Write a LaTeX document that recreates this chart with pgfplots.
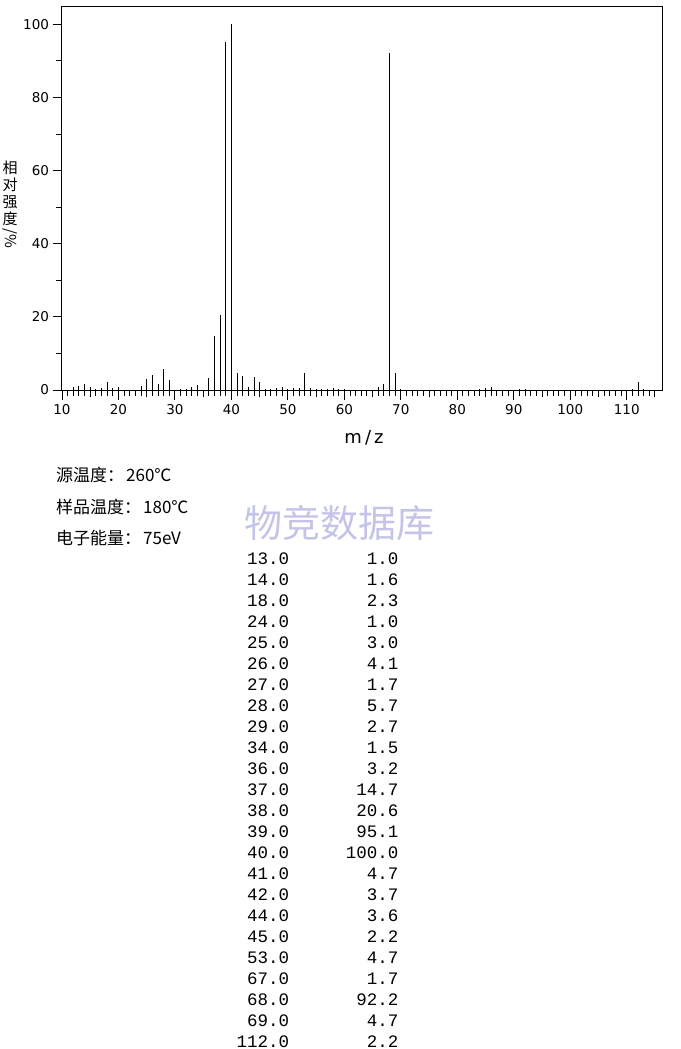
\documentclass[border=0pt]{standalone}
\usepackage{fontspec}
\usepackage{pgfplots}
\pgfplotsset{compat=1.18}
\setmainfont{DejaVu Sans}
\newfontfamily\cjk{Noto Sans CJK SC}
\newfontfamily\mono{Liberation Mono}
\definecolor{wm}{RGB}{196,196,232}
\begin{document}
\begin{tikzpicture}
\path[use as bounding box] (0,0) rectangle (680pt,-1049pt);
% watermark sits behind everything
\node[font=\cjk\fontsize{38}{38}\selectfont, text=wm, inner sep=0] at (339.5pt,-523pt) {物竞数据库};
\begin{axis}[
  at={(62pt,-390pt)}, anchor=south west,
  scale only axis, width=600pt, height=384pt,
  xmin=10, xmax=116.25, ymin=0, ymax=105,
  axis line style={line width=1pt},
  tick pos=left, tick align=outside,
  every tick/.style={black, line width=0.9pt},
  major tick length=9.5pt, minor tick length=5.7pt,
  xtick={10,20,...,110}, minor xtick={11,...,115},
  extra x ticks={15,25,...,115}, extra x tick labels={},
  extra x tick style={major tick length=7.3pt},
  ytick={0,20,...,100}, minor ytick={10,30,...,90},
  ticklabel style={font=\fontsize{13.5}{13.5}\selectfont},
  xticklabel style={yshift=-1.5pt},
  /pgf/number format/assume math mode=true,
]
\addplot[ycomb, black, line width=0.9pt, mark=none] coordinates {
(12,0.9) (13,1.0) (14,1.6) (15,0.8) (16,0.4) (17,0.5) (18,2.3) (19,0.5) (20,0.8)
(24,1.0) (25,3.0) (26,4.1) (27,1.7) (28,5.7) (29,2.7) (31,0.2) (32,0.3) (33,0.7)
(34,1.5) (36,3.2) (37,14.7) (38,20.6) (39,95.1) (40,100.0) (41,4.7) (42,3.7)
(43,0.8) (44,3.6) (45,2.2) (46,0.2) (47,0.3) (48,0.6) (49,0.8) (50,0.3) (51,0.5)
(52,0.5) (53,4.7) (54,0.5) (55,0.4) (56,0.3) (57,0.4) (58,0.5) (59,0.3) (60,0.2)
(66,0.7) (67,1.7) (68,92.2) (69,4.7) (70,0.2) (84,0.4) (85,0.5) (86,0.8)
(91,0.2) (92,0.3) (111,0.3) (112,2.2) (113,0.3)
};
\end{axis}
% axis titles
\node[font=\fontsize{18}{18}\selectfont, inner sep=0] at (364pt,-438pt) {m\hspace{3pt}/\hspace{3pt}z};
\begin{scope}[every node/.style={font=\cjk\fontsize{15}{15}\selectfont, inner sep=0}]
\node at (10pt,-168pt) {相};
\node at (10pt,-185pt) {对};
\node at (10pt,-202pt) {强};
\node at (10pt,-219pt) {度};
\node[rotate=-90, anchor=west] at (10pt,-228pt) {/\%};
\end{scope}
% conditions
\begin{scope}[every node/.style={font=\cjk\fontsize{17}{17}\selectfont, anchor=base west, inner sep=0}]
\node at (56pt,-481.5pt) {源温度：\hspace{2pt}260℃};
\node at (56pt,-513pt) {样品温度：\hspace{2pt}180℃};
\node at (56pt,-544.5pt) {电子能量：\hspace{2pt}75eV};
\end{scope}
% peak list
\foreach \m/\v [count=\i from 0] in {13.0/1.0, 14.0/1.6, 18.0/2.3, 24.0/1.0, 25.0/3.0,
  26.0/4.1, 27.0/1.7, 28.0/5.7, 29.0/2.7, 34.0/1.5, 36.0/3.2, 37.0/14.7, 38.0/20.6,
  39.0/95.1, 40.0/100.0, 41.0/4.7, 42.0/3.7, 44.0/3.6, 45.0/2.2, 53.0/4.7, 67.0/1.7,
  68.0/92.2, 69.0/4.7, 112.0/2.2} {
  \node[font=\mono\fontsize{17.5}{17.5}\selectfont, anchor=base east, inner sep=0] at (289.3pt,{-564pt-\i*21pt}) {\m};
  \node[font=\mono\fontsize{17.5}{17.5}\selectfont, anchor=base east, inner sep=0] at (398.7pt,{-564pt-\i*21pt}) {\v};
}
\end{tikzpicture}
\end{document}
